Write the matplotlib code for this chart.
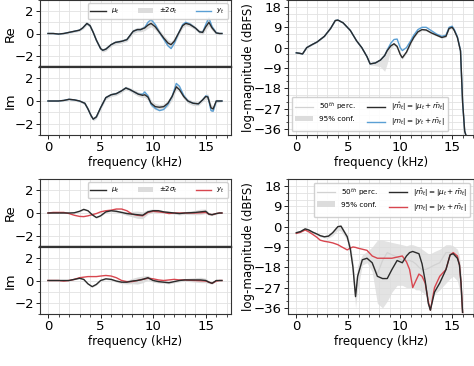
import numpy as np
import matplotlib.pyplot as plt
import matplotlib.ticker as ticker
from matplotlib.lines import Line2D
from matplotlib.patches import Patch

# ---------------- data ----------------
# top row: Re / Im of a well-fit example
f_re1 = [0, 0.5, 1, 1.5, 2, 2.5, 3, 3.3, 3.7, 4.0, 4.3, 4.6, 5.0, 5.2, 5.5, 6.0, 6.4, 7.0,
         7.5, 8.1, 8.5, 8.8, 9.2, 9.5, 9.8, 10.2, 10.6, 11.0, 11.4, 11.7, 12.0, 12.4, 12.8,
         13.1, 13.5, 14.0, 14.4, 14.7, 15.0, 15.3, 15.6, 16.0, 16.3, 16.54]
re_mu1 = [0, 0, -0.05, 0, 0.1, 0.2, 0.3, 0.5, 0.9, 0.7, 0.1, -0.6, -1.35, -1.5, -1.4, -1.0,
          -0.8, -0.7, -0.55, 0.2, 0.35, 0.35, 0.5, 0.75, 0.9, 0.6, 0.1, -0.4, -0.85, -1.0,
          -0.7, 0.0, 0.7, 0.9, 0.8, 0.5, 0.15, 0.1, 0.6, 1.0, 0.5, 0.05, 0, 0]
re_y1 = [0, 0, -0.05, 0, 0.1, 0.2, 0.3, 0.5, 0.9, 0.7, 0.1, -0.6, -1.35, -1.5, -1.4, -1.0,
         -0.8, -0.7, -0.55, 0.2, 0.35, 0.35, 0.55, 1.0, 1.25, 0.8, 0.1, -0.5, -1.1, -1.35,
         -0.9, 0.0, 0.8, 1.0, 0.85, 0.5, 0.15, 0.1, 0.8, 1.4, 0.6, 0.05, 0, 0]
re_sd1 = [0.02, 0.02, 0.03, 0.03, 0.04, 0.05, 0.05, 0.06, 0.08, 0.08, 0.08, 0.08, 0.08, 0.08,
          0.08, 0.08, 0.08, 0.08, 0.08, 0.1, 0.1, 0.1, 0.12, 0.14, 0.15, 0.14, 0.12, 0.12,
          0.14, 0.15, 0.14, 0.1, 0.1, 0.1, 0.1, 0.08, 0.08, 0.1, 0.14, 0.16, 0.12, 0.08, 0.05, 0.03]

f_im1 = [0, 0.5, 1, 1.5, 2, 2.5, 3, 3.5, 3.8, 4.1, 4.3, 4.6, 5.0, 5.5, 6.0, 6.5, 7.0, 7.4,
         7.8, 8.2, 8.6, 9.0, 9.2, 9.5, 9.8, 10.2, 10.6, 11.0, 11.4, 11.8, 12.2, 12.5, 12.9,
         13.3, 13.8, 14.3, 14.7, 15.0, 15.2, 15.5, 15.7, 16.0, 16.3, 16.54]
im_mu1 = [0, 0, 0, 0.05, 0.15, 0.1, 0.0, -0.2, -0.7, -1.3, -1.6, -1.4, -0.6, 0.3, 0.55, 0.65,
          0.9, 1.15, 1.0, 0.8, 0.6, 0.5, 0.55, 0.35, -0.2, -0.5, -0.55, -0.5, -0.2, 0.4, 1.25,
          1.0, 0.4, 0.0, -0.2, -0.25, 0.1, 0.4, 0.35, -0.6, -0.7, 0, 0, 0]
im_y1 = [0, 0, 0, 0.05, 0.15, 0.1, 0.0, -0.2, -0.7, -1.3, -1.6, -1.4, -0.6, 0.3, 0.55, 0.65,
         0.9, 1.15, 1.0, 0.8, 0.6, 0.6, 0.8, 0.45, -0.3, -0.65, -0.85, -0.75, -0.3, 0.4, 1.55,
         1.3, 0.5, 0.0, -0.2, -0.25, 0.1, 0.45, 0.4, -0.85, -0.9, 0, 0, 0]

f_mag1 = [0, 0.3, 0.6, 1.0, 1.5, 2.0, 2.7, 3.3, 3.75, 4.0, 4.5, 5.2, 5.8, 6.3, 6.8, 7.1, 7.6,
          8.1, 8.5, 8.75, 9.1, 9.4, 9.7, 10.0, 10.2, 10.6, 11.0, 11.3, 11.7, 12.1, 12.5, 13.0,
          13.5, 14.0, 14.4, 14.7, 15.0, 15.2, 15.5, 15.8, 16.0, 16.2, 16.4]
mag_mu1 = [-2.3, -2.5, -2.8, 0, 1.3, 2.5, 5, 8.5, 12, 12.2, 11, 7.6, 3, 0, -4, -7.2, -6.8,
           -5.5, -3.5, -1.3, 0.8, 1.7, 0.5, -3, -4.5, -2, 2, 4.5, 7, 8, 7.8, 6.5, 5.5, 4.5,
           5, 8.5, 9, 7.6, 4.5, -1.5, -24, -37, -40]
mag_y1 = [-2.3, -2.5, -2.8, 0, 1.3, 2.5, 5, 8.5, 12, 12.2, 11, 7.6, 3, 0, -4, -7.2, -6.8,
          -5.5, -3.5, -1.0, 2.0, 3.6, 3.8, 0, -1.3, 0, 3, 5.5, 8, 9, 9, 7.5, 6, 5,
          5.5, 9, 9.5, 8, 4.8, -1.2, -24, -37, -40]
mag_lo1 = [-2.5, -2.7, -3.0, -0.3, 1.0, 2.2, 4.7, 8.2, 11.7, 11.9, 10.7, 7.3, 2.7, -0.4, -4.4,
           -7.7, -8, -8.5, -10.5, -7, -0.5, 1.0, -0.2, -3.6, -5.2, -2.6, 1.5, 4.0, 6.5, 7.5,
           7.3, 6.0, 5.1, 4.1, 4.5, 8.0, 8.5, 7.0, 3.8, -2.5, -25, -37.5, -40]
mag_hi1 = [-2.1, -2.3, -2.6, 0.3, 1.6, 2.8, 5.3, 8.8, 12.3, 12.5, 11.3, 7.9, 3.3, 0.4, -3.6,
           -6.7, -6.0, -5.0, -3.0, -0.8, 1.4, 2.4, 1.2, -2.4, -3.8, -1.4, 2.5, 5.0, 7.5, 8.5,
           8.3, 7.0, 5.9, 4.9, 5.5, 9.0, 9.5, 8.2, 5.2, -0.5, -23, -36.5, -40]

# bottom row: a poorly-fit example
f_re2 = [0, 0.5, 1, 1.5, 2, 2.5, 3, 3.4, 3.8, 4.2, 4.6, 5.0, 5.5, 6.0, 6.5, 7.0, 7.5, 8.0,
         8.5, 9.0, 9.5, 10.0, 10.5, 11.0, 11.5, 12.0, 12.5, 13.0, 13.5, 14.0, 14.5, 15.0,
         15.3, 15.6, 16.0, 16.3, 16.54]
re_mu2 = [0, 0, 0, 0, 0, 0.02, 0.15, 0.32, 0.2, -0.15, -0.4, -0.25, 0.1, 0.2, 0.15, 0.05,
          -0.05, -0.1, -0.15, -0.2, 0.1, 0.2, 0.2, 0.1, 0.05, 0, -0.05, 0, 0.02, 0.05, 0.1,
          0.15, -0.1, -0.15, -0.05, 0, 0]
re_y2 = [0, 0.05, 0.05, 0.05, -0.05, -0.2, -0.3, -0.32, -0.25, -0.15, -0.05, 0.1, 0.2, 0.25,
         0.35, 0.35, 0.2, -0.1, -0.2, -0.25, 0.05, 0.15, 0.1, 0.05, -0.05, 0, 0, 0, 0, 0,
         0.02, 0.05, -0.1, -0.15, -0.05, 0, 0]
re_sd2 = [0.01, 0.01, 0.01, 0.01, 0.01, 0.02, 0.02, 0.03, 0.03, 0.03, 0.03, 0.03, 0.03, 0.04,
          0.05, 0.06, 0.08, 0.12, 0.16, 0.15, 0.1, 0.08, 0.06, 0.05, 0.05, 0.05, 0.06, 0.06,
          0.08, 0.1, 0.12, 0.1, 0.06, 0.04, 0.03, 0.02, 0.01]

f_im2 = f_re2
im_mu2 = [0, 0, 0, 0, 0, 0.1, 0.2, 0.1, -0.3, -0.55, -0.35, 0, 0.15, 0.1, -0.05, -0.15,
          -0.15, -0.05, 0, 0.1, 0.25, 0.0, -0.1, -0.15, -0.2, -0.1, 0, 0.05, 0.05, 0.05, 0.05,
          0, -0.15, -0.25, 0, 0, 0]
im_y2 = [0, 0, 0, -0.05, 0, 0.1, 0.25, 0.3, 0.35, 0.35, 0.35, 0.4, 0.45, 0.4, 0.25, 0.0,
         -0.1, -0.1, 0, 0.1, 0.2, 0.15, 0.05, 0, 0.05, 0.1, 0.05, 0.05, 0.02, 0, -0.02, -0.05,
         -0.15, -0.25, -0.05, 0, 0]
im_sd2 = re_sd2

f_mag2 = [0, 0.4, 0.85, 1.2, 1.6, 2.0, 2.3, 2.7, 3.1, 3.5, 4.0, 4.3, 4.9, 5.2, 5.45, 5.7,
          5.9, 6.35, 6.8, 7.3, 7.8, 8.3, 8.75, 9.2, 9.7, 10.2, 10.6, 10.9, 11.2, 11.5, 11.8,
          12.1, 12.4, 12.7, 12.9, 13.3, 13.8, 14.4, 14.8, 15.1, 15.5, 15.7, 15.85, 16.0]
mag_mu2 = [-2.7, -2.2, -1.0, -1.5, -2.5, -3.3, -4, -4.5, -4.2, -2.7, 0, 0.2, -4.5, -10, -18,
           -31, -22, -14.7, -14, -16, -22, -23, -23, -19, -15, -16, -13, -11.5, -11, -11.5,
           -12, -16.5, -24, -34, -37, -29, -25, -19, -12.5, -12, -14, -17, -25, -38]
mag_y2 = [-3, -2.5, -1.5, -2.3, -3.5, -4.8, -6, -6.5, -6.8, -7.2, -8, -8.8, -10.3, -9.5, -9,
          -9.2, -9.5, -10, -10.5, -13, -14, -14, -14, -14, -13.5, -13, -15.6, -19, -27, -24,
          -21, -22, -25, -33, -37, -27, -22, -19, -12.5, -11.5, -13, -17, -25, -38]
p50_2 = [-2.7, -2.2, -1.0, -1.5, -2.5, -3.3, -4, -4.5, -4.2, -2.7, 0, 0.2, -4.5, -10, -18,
         -31, -22, -14.7, -14, -16, -21, -15, -11.5, -12.5, -13.5, -15, -15, -15, -15.5,
         -16.5, -18, -19, -19, -18.5, -18, -17, -16, -11.5, -11.5, -12.5, -14, -17, -25, -38]
mag_lo2 = [-3, -2.5, -1.4, -2, -3, -3.8, -4.5, -5, -5, -4, -1.5, -2, -6, -12, -21, -36,
           -28, -17, -16, -20, -34, -36, -33, -29, -26, -26, -27, -27, -27, -28, -28, -29,
           -30, -32, -33, -30, -28, -25, -23, -22, -24, -28, -35, -38]
mag_hi2 = [-2.4, -1.9, -0.6, -1.1, -2, -2.8, -3.5, -4, -3.5, -1.8, 0.5, 0.7, -3.5, -8, -15,
           -26, -17, -12.5, -11, -9, -6, -6, -6.5, -7, -7.5, -8, -8.5, -8, -8, -8.5, -9,
           -10, -11, -12, -12, -11, -10, -8, -8, -8.5, -10, -13, -20, -38]

# ---------------- styling ----------------
c_mu = '#2b2b2b'
c_blue = '#5a9fd4'
c_red = '#d8464f'
c_band = '#dcdcdc'
c_p50 = '#d2d2d2'

plt.rcParams['font.size'] = 8
plt.rcParams['axes.edgecolor'] = '#333333'

W, H = 474, 366
fig = plt.figure(figsize=(W / 100, H / 100), dpi=100)


def px_axes(x0, y0, x1, y1):
    return fig.add_axes([x0 / W, 1 - y1 / H, (x1 - x0) / W, (y1 - y0) / H])


def style(ax, ylim, ymaj, ymin, xlim):
    ax.set_xlim(*xlim)
    ax.set_ylim(*ylim)
    ax.xaxis.set_major_locator(ticker.MultipleLocator(5))
    ax.xaxis.set_minor_locator(ticker.MultipleLocator(1))
    ax.yaxis.set_major_locator(ticker.MultipleLocator(ymaj))
    ax.yaxis.set_minor_locator(ticker.MultipleLocator(ymin))
    ax.grid(which='both', color='#e2e2e2', lw=0.6)
    ax.set_axisbelow(True)
    ax.tick_params(which='major', length=3, width=0.6, pad=1.5, labelsize=9.5)
    ax.tick_params(which='minor', length=1.8, width=0.5)


XL = (-0.76, 17.4)
XR = (-0.8, 17.05)


def reim_pair(y_top, y_mid, y_bot, re, im, col):
    ax_re = px_axes(40, y_top, 231, y_mid)
    ax_im = px_axes(40, y_mid, 231, y_bot)
    for ax, (f, mu, y, sd), lab in ((ax_re, re, 'Re'), (ax_im, im, 'Im')):
        mu_a, sd_a = np.array(mu), np.array(sd)
        ax.fill_between(f, mu_a - 2 * sd_a, mu_a + 2 * sd_a, color=c_band, lw=0)
        ax.plot(f, y, color=col, lw=1.0)
        ax.plot(f, mu, color=c_mu, lw=1.0)
        style(ax, (-3, 3), 2, 1, XL)
        ax.set_ylabel(lab, fontsize=9.5)
        ax.yaxis.set_label_coords(-0.122, 0.5)
        for s in ax.spines.values():
            s.set_linewidth(0.8)
    ax_re.tick_params(axis='x', labelbottom=False, length=0, which='both')
    ax_re.spines['bottom'].set_linewidth(1.6)
    ax_im.spines['top'].set_linewidth(1.6)
    ax_im.set_xlabel('frequency (kHz)', fontsize=8.5, labelpad=1)
    handles = [Line2D([0], [0], color=c_mu, lw=1.0),
               Patch(color=c_band, lw=0),
               Line2D([0], [0], color=col, lw=1.0)]
    ax_re.legend(handles, [r'$\mu_t$', r'$\pm 2\sigma_t$', r'$y_t$'], ncol=3,
                 loc='upper right', fontsize=5, frameon=True, borderpad=0.4,
                 handlelength=2.2, columnspacing=2.6, framealpha=0.9,
                 bbox_to_anchor=(1.0, 1.0))
    return ax_re, ax_im


def mag_panel(y_top, y_bot, f, mu, y, p50, lo, hi, col, loc):
    ax = px_axes(288, y_top, 473.5, y_bot)
    ax.fill_between(f, lo, hi, color=c_band, lw=0, alpha=0.8)
    ax.plot(f, p50, color=c_p50, lw=0.9)
    ax.plot(f, y, color=col, lw=1.0)
    ax.plot(f, mu, color=c_mu, lw=1.0)
    style(ax, (-38.7, 21.1), 9, 3, XR)
    ax.set_ylabel('log-magnitude (dBFS)', fontsize=8.5)
    ax.yaxis.set_label_coords(-0.178, 0.5)
    ax.set_xlabel('frequency (kHz)', fontsize=8.5, labelpad=1)
    handles = [Line2D([0], [0], color=c_p50, lw=0.9),
               Patch(color=c_band, lw=0),
               Line2D([0], [0], color=c_mu, lw=1.0),
               Line2D([0], [0], color=col, lw=1.0)]
    labels = [r'50$^{th}$ perc.', '95% conf.',
              r'$|\hat{m}_t| = |\mu_t + \bar{m}_t|$', r'$|m_t| = |y_t + \bar{m}_t|$']
    ax.legend(handles, labels, ncol=2, loc=loc, fontsize=5.2, frameon=True,
              borderpad=0.45, handlelength=2.5, columnspacing=1.6, framealpha=0.9)
    return ax


reim_pair(0, 67, 135, (f_re1, re_mu1, re_y1, re_sd1), (f_im1, im_mu1, im_y1, re_sd1), c_blue)
mag_panel(0, 135, f_mag1, mag_mu1, mag_y1, mag_mu1, mag_lo1, mag_hi1, c_blue, 'lower left')

reim_pair(179, 247, 314, (f_re2, re_mu2, re_y2, re_sd2), (f_im2, im_mu2, im_y2, im_sd2), c_red)
mag_panel(179, 314, f_mag2, mag_mu2, mag_y2, p50_2, mag_lo2, mag_hi2, c_red, 'upper right')

fig.savefig('out.png', dpi=100)
